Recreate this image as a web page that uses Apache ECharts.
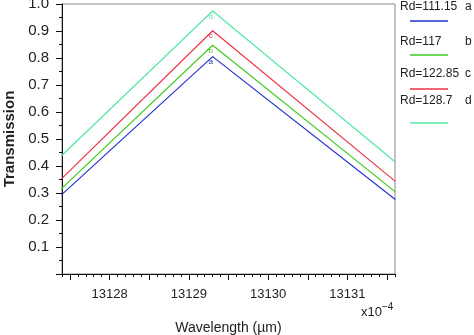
<!DOCTYPE html>
<html>
<head>
<meta charset="utf-8">
<script src="https://cdn.jsdelivr.net/npm/echarts@6/dist/echarts.min.js"></script>
<style>
  html, body { margin: 0; padding: 0; background: #fff; }
  #chart { width: 474px; height: 335px; }
</style>
</head>
<body>
<div id="chart"></div>
<script>
// Wavelength samples (x10^-4 µm): left edge, peak, right edge
const wavelengths = [13127.4, 13129.3, 13131.6];

// Transmission for each Rd value at those wavelengths
const rd111 = [0.295, 0.805, 0.277];
const rd117 = [0.318, 0.847, 0.305];
const rd122 = [0.354, 0.901, 0.344];
const rd128 = [0.440, 0.974, 0.416];

const seriesNames = ['Rd=111.15', 'Rd=117', 'Rd=122.85', 'Rd=128.7'];
const seriesTags = ['a', 'b', 'c', 'd'];
const seriesValues = [rd111, rd117, rd122, rd128];
const seriesColors = ['#2233cc', '#3fcc1c', '#ee3344', '#55e6a2'];

const xTickLabels = [13128, 13129, 13130, 13131];
const yTickLabels = ['0.1', '0.2', '0.3', '0.4', '0.5', '0.6', '0.7', '0.8', '0.9', '1.0'];

const X_MIN = 13127.4, X_MAX = 13131.6;
const FONT = 'Arial, "Liberation Sans", sans-serif';
const PEAK = 1;

// Major ticks on whole and half units, minor ticks every 0.1
const majorTicks = [];
for (let v = 13127.5; v <= X_MAX + 1e-9; v += 0.5) majorTicks.push(+v.toFixed(1));
const minorTicks = [];
for (let k = 0; k <= 42; k++) minorTicks.push(+(X_MIN + k * 0.1).toFixed(1));

const chart = echarts.init(document.getElementById('chart'));

const series = seriesValues.map((vals, i) => ({
  name: seriesNames[i],
  type: 'line',
  xAxisIndex: 0,
  yAxisIndex: 0,
  symbol: 'circle',
  symbolSize: 1,
  showSymbol: true,
  lineStyle: { color: seriesColors[i], width: 1.2 },
  itemStyle: { color: seriesColors[i] },
  emphasis: { disabled: true },
  data: vals.map((v, k) => {
    const item = { value: [wavelengths[k], v] };
    if (k === PEAK) {
      item.label = {
        show: true,
        formatter: seriesTags[i],
        position: 'bottom',
        distance: 1,
        offset: [-2, 0],
        color: seriesColors[i],
        fontSize: 8,
        fontFamily: FONT
      };
    }
    return item;
  })
}));

// Legend block on the right: name + tag, with a line sample underneath
const legendTextY = [8, 43, 75, 102];
const legendLineY = [21, 55, 89, 123];
const graphics = [];
seriesNames.forEach((name, i) => {
  graphics.push({
    type: 'text', left: 400, top: legendTextY[i] - 7,
    style: { text: name, font: '12px ' + FONT, fill: '#222' }
  });
  graphics.push({
    type: 'text', left: 465, top: legendTextY[i] - 7,
    style: { text: seriesTags[i], font: '12px ' + FONT, fill: '#222' }
  });
  graphics.push({
    type: 'line',
    shape: { x1: 410, y1: legendLineY[i], x2: 448, y2: legendLineY[i] },
    style: { stroke: seriesColors[i], lineWidth: 1.6 }
  });
});
graphics.push({
  type: 'text', left: 361, top: 302,
  style: {
    text: '{b|x10}{s|−4}',
    rich: {
      b: { font: '13px ' + FONT, fill: '#222', padding: [6, 0, 0, 0] },
      s: { font: '10px ' + FONT, fill: '#222', padding: [0, 0, 4, 0] }
    }
  }
});

const axisColor = '#111';
const gridRect = { left: 62, right: 79, top: 4, bottom: 61 };

chart.setOption({
  animation: false,
  grid: [
    Object.assign({
      show: true, borderColor: '#888', borderWidth: 1, backgroundColor: '#fff',
      outerBoundsMode: 'none', containLabel: false
    }, gridRect),
    // Same rectangle, only carries the fine 0.1 ticks of the wavelength axis
    Object.assign({ show: false, outerBoundsMode: 'none', containLabel: false }, gridRect)
  ],
  xAxis: [
    {
      gridIndex: 0,
      type: 'value',
      min: X_MIN,
      max: X_MAX,
      name: 'Wavelength (µm)',
      nameLocation: 'middle',
      nameGap: 47,
      nameTextStyle: { fontSize: 14, fontFamily: FONT, color: '#222' },
      axisLine: { show: true, onZero: false, lineStyle: { color: axisColor, width: 1 } },
      axisTick: { show: true, inside: false, length: 6, customValues: majorTicks, lineStyle: { color: axisColor } },
      splitLine: { show: false },
      axisLabel: {
        margin: 14,
        fontSize: 13,
        fontFamily: FONT,
        color: '#222',
        customValues: xTickLabels,
        formatter: v => String(Math.round(v))
      }
    },
    {
      gridIndex: 1,
      type: 'value',
      min: X_MIN,
      max: X_MAX,
      position: 'bottom',
      axisLine: { show: true, onZero: false, lineStyle: { color: axisColor, width: 1 } },
      axisTick: { show: true, inside: false, length: 3, customValues: minorTicks, lineStyle: { color: axisColor } },
      axisLabel: { show: true, formatter: () => '' },
      splitLine: { show: false }
    },
    {
      // Same fine ticks, drawn upward from a line 3px below the axis
      gridIndex: 1,
      type: 'value',
      min: X_MIN,
      max: X_MAX,
      position: 'bottom',
      offset: 3,
      axisLine: { show: true, onZero: false, lineStyle: { color: axisColor, width: 1, opacity: 0 } },
      axisTick: { show: true, inside: true, length: 3, customValues: minorTicks, lineStyle: { color: axisColor } },
      axisLabel: { show: true, formatter: () => '' },
      splitLine: { show: false }
    }
  ],
  yAxis: [
    {
      gridIndex: 0,
      type: 'value',
      min: 0,
      max: 1,
      interval: 0.1,
      name: 'Transmission',
      nameLocation: 'middle',
      nameGap: 38,
      nameTextStyle: { fontSize: 15, fontWeight: 'bold', fontFamily: FONT, color: '#222' },
      axisLine: { show: true, onZero: false, lineStyle: { color: axisColor, width: 1 } },
      axisTick: { show: true, inside: false, length: 6, lineStyle: { color: axisColor } },
      minorTick: { show: true, splitNumber: 2, length: 3, lineStyle: { color: axisColor } },
      splitLine: { show: false },
      axisLabel: {
        margin: 13,
        fontSize: 15,
        fontFamily: FONT,
        color: '#222',
        formatter: v => {
          const s = v.toFixed(1);
          return yTickLabels.includes(s) ? s : '';
        }
      }
    },
    {
      gridIndex: 1,
      type: 'value',
      min: 0,
      max: 1,
      show: false
    }
  ],
  graphic: graphics,
  series: series
});
</script>
</body>
</html>
